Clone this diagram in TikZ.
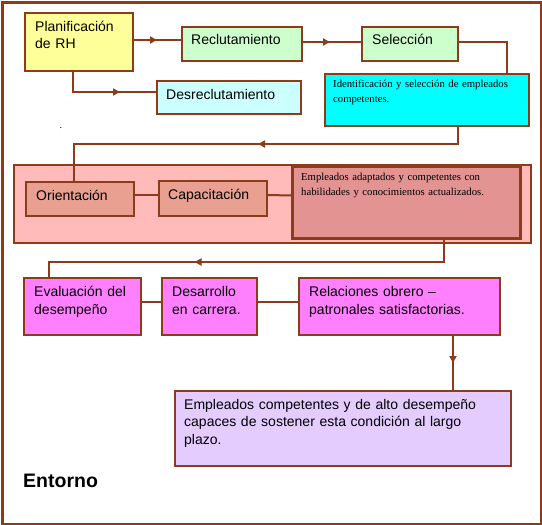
\documentclass[tikz,border=0pt]{standalone}
\usepackage{fontspec}
\setmainfont{Liberation Sans}
\newfontfamily\serifface{Liberation Serif}
\usetikzlibrary{arrows.meta,decorations.markings}
\definecolor{brn}{RGB}{140,60,25}
\definecolor{cyel}{RGB}{255,255,153}
\definecolor{cgrn}{RGB}{204,255,204}
\definecolor{ccya}{RGB}{204,255,255}
\definecolor{caqua}{RGB}{0,255,255}
\definecolor{cpink}{RGB}{255,187,185}
\definecolor{csalm}{RGB}{233,160,145}
\definecolor{crose}{RGB}{227,147,145}
\definecolor{cmag}{RGB}{255,128,255}
\definecolor{clav}{RGB}{229,204,255}
\tikzset{
  box/.style={draw=brn, line width=2pt, inner sep=0pt, anchor=north west},
  conn/.style={draw=brn, line width=2pt},
  midarr/.style={postaction={decorate}, decoration={markings,
      mark=at position #1 with {\arrow[brn]{Triangle[length=7pt,width=7pt]}}}},
  txt/.style={anchor=base west, inner sep=0pt, text width=#1, align=left,
      font=\fontsize{14}{17.5}\selectfont},
  stxt/.style={anchor=base west, inner sep=0pt, text width=#1, align=left,
      font=\serifface\fontsize{10.7}{14.5}\selectfont},
}
\begin{document}
\begin{tikzpicture}[x=1pt,y=-1pt]
\useasboundingbox (0,0) rectangle (542,525);
% outer frame
\node[box, line width=2.6pt, minimum width=539pt, minimum height=522pt] (frame) at (1.3,1.3) {};
% top row
\node[box, fill=cyel, minimum width=108pt, minimum height=58pt] (plan) at (24,12) {};
\node[box, fill=cgrn, minimum width=120pt, minimum height=34pt] (recl) at (181,26) {};
\node[box, fill=ccya, minimum width=144pt, minimum height=33pt] (desr) at (156,80) {};
\node[box, fill=cgrn, minimum width=96pt, minimum height=34pt] (sel) at (361,26) {};
\node[box, fill=caqua, minimum width=204pt, minimum height=52pt] (iden) at (324,73) {};
% middle container
\node[box, fill=cpink, minimum width=517pt, minimum height=78pt] (cont) at (13,164) {};
\node[box, fill=csalm, minimum width=108pt, minimum height=34pt] (orie) at (25,181) {};
\node[box, fill=csalm, minimum width=108pt, minimum height=35pt] (capa) at (158,180) {};
\node[box, fill=crose, line width=3pt, minimum width=228pt, minimum height=72pt] (emad) at (291,165) {};
% lower row
\node[box, fill=cmag, minimum width=117pt, minimum height=57pt] (eval) at (23,277) {};
\node[box, fill=cmag, minimum width=95pt, minimum height=57pt] (desa) at (161,277) {};
\node[box, fill=cmag, minimum width=201pt, minimum height=57pt] (rela) at (298,277) {};
\node[box, fill=clav, minimum width=336pt, minimum height=75pt] (emco) at (174,390) {};
% texts
\node[txt=100pt] (tplan) at (35,31) {Planificación\\de RH};
\node[txt=110pt] (trecl) at (191,44.5) {Reclutamiento};
\node[txt=130pt] (tdesr) at (166,99) {Desreclutamiento};
\node[txt=90pt] (tsel) at (372,44.5) {Selección};
\node[stxt=195pt] (tiden) at (333,87.5) {Identificación y selección de empleados\\competentes.};
\node[txt=100pt] (torie) at (36,200) {Orientación};
\node[txt=100pt] (tcapa) at (168,199) {Capacitación};
\node[stxt=215pt, font=\serifface\fontsize{10.7}{14.3}\selectfont] (temad) at (301,180.7) {Empleados adaptados y competentes con\\habilidades y conocimientos actualizados.};
\node[txt=110pt] (teval) at (34,296.7) {Evaluación del\\desempeño};
\node[txt=90pt] (tdesa) at (172,296.7) {Desarrollo\\en carrera.};
\node[txt=190pt] (trela) at (309,296.7) {Relaciones obrero –\\patronales satisfactorias.};
\node[txt=320pt] (temco) at (184,409.3) {Empleados competentes y de alto desempeño\\capaces de sostener esta condición al largo\\plazo.};
\node[anchor=base west, inner sep=0pt, font=\bfseries\fontsize{19.5}{22}\selectfont] (tent) at (23,487.3) {Entorno};
\node[anchor=base west, inner sep=0pt, font=\serifface\fontsize{10}{12}\selectfont] (dot) at (59.5,128.5) {.};
% connectors
\draw[conn, midarr=23pt] ([yshift=2pt]plan.east) -- ([yshift=4pt]recl.west);
\draw[conn, midarr=67pt] ([xshift=-6pt]plan.south) |- ([yshift=5.5pt]desr.west);
\draw[conn, midarr=27pt] ([yshift=2pt]recl.east) -- ([yshift=2pt]sel.west);
\draw[conn] ([yshift=2pt]sel.east) -| ([xshift=-23pt]iden.north east);
\draw[conn, midarr=217pt] ([xshift=31pt]iden.south) -- ++(0,17) -| ([xshift=-6pt]orie.north);
\draw[conn] ([yshift=4pt]orie.east) -- ([yshift=3.5pt]capa.west);
\draw[conn] ([yshift=3.5pt]capa.east) -- ([yshift=7pt]emad.west);
\draw[conn, midarr=271pt] ([xshift=37pt]emad.south) -- ++(0,22) -| ([xshift=-33.5pt]eval.north);
\draw[conn] ([yshift=4.5pt]eval.east) -- ([yshift=4.5pt]desa.west);
\draw[conn] ([yshift=4.5pt]desa.east) -- ([yshift=4.5pt]rela.west);
\draw[conn, midarr=27pt] ([xshift=53.5pt]rela.south) -- ([xshift=53.5pt]rela.south |- emco.north);
\end{tikzpicture}
\end{document}
